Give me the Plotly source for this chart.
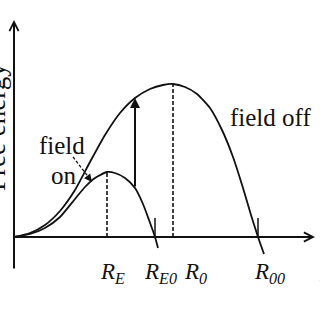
import plotly.graph_objects as go

# ---- data (arbitrary units: radius R, free energy F) ----
r_off = [0, 16, 31, 46, 61, 76, 91, 106, 121, 136, 149, 159, 171, 183, 196, 208, 219, 229, 237, 244, 250]
f_off = [0, 4, 12, 26, 47, 75, 102, 124, 139, 148, 152, 153, 150, 143, 129, 107, 80, 49, 22, 0, -17]

r_on = [0, 16, 31, 46, 61, 71, 81, 93, 101, 111, 121, 129, 135, 141, 144]
f_on = [0, 3, 9, 20, 38, 50, 59, 65, 64, 59, 49, 33, 17, 0, -11]

mark_names = ["R_E", "R_E0", "R_0", "R_00"]
mark_r = [93, 141, 159, 244]
mark_labels = ["<i>R</i><sub><i>E</i></sub>", "<i>R</i><sub><i>E0</i></sub>",
               "<i>R</i><sub><i>0</i></sub>", "<i>R</i><sub><i>00</i></sub>"]
jump_r = 121  # field switch arrow

# ---- layout helpers (positions, styles) ----
label_left = [84, 128, 168, 238]
label_y = -36
FONT = "'Liberation Serif', 'Times New Roman', Times, serif"
BLACK = "#111"

fig = go.Figure()
fig.add_trace(go.Scatter(x=r_off, y=f_off, mode="lines", line=dict(color=BLACK, width=1.8, shape="spline", smoothing=0.6), hoverinfo="skip"))
fig.add_trace(go.Scatter(x=r_on, y=f_on, mode="lines", line=dict(color=BLACK, width=1.8, shape="spline", smoothing=0.6), hoverinfo="skip"))

# dashed drop lines at the maxima
i_e = f_on.index(max(f_on))
i_0 = f_off.index(max(f_off))
for rx, fy in [(r_on[i_e], f_on[i_e]), (r_off[i_0], f_off[i_0])]:
    fig.add_trace(go.Scatter(x=[rx, rx], y=[0, fy], mode="lines", line=dict(color=BLACK, width=1.6, dash="4px,2px"), hoverinfo="skip"))

# short tick marks at zero crossings
for rx in [mark_r[1], mark_r[3]]:
    fig.add_trace(go.Scatter(x=[rx, rx], y=[0, 19], mode="lines", line=dict(color=BLACK, width=1.5), hoverinfo="skip"))

# dashed pointer for "field on"
fig.add_trace(go.Scatter(x=[59, 76], y=[80, 58], mode="lines", line=dict(color=BLACK, width=1.3, dash="3px,2px"), hoverinfo="skip"))

ann = []
ann.append(dict(x=0, y=217, ax=0, ay=-33, xref="x", yref="y", axref="x", ayref="y", text="", showarrow=True,
                arrowhead=5, arrowwidth=2, arrowsize=0.9, arrowcolor=BLACK))
ann.append(dict(x=301, y=0, ax=0, ay=0, xref="x", yref="y", axref="x", ayref="y", text="", showarrow=True,
                arrowhead=5, arrowwidth=2, arrowsize=0.9, arrowcolor=BLACK))
ann.append(dict(x=jump_r, y=f_off[r_off.index(jump_r)], ax=jump_r, ay=f_on[r_on.index(jump_r)], xref="x", yref="y",
                axref="x", ayref="y", text="", showarrow=True, arrowhead=2, arrowwidth=2, arrowsize=1, arrowcolor=BLACK))
ann.append(dict(x=78, y=55, ax=74, ay=60, xref="x", yref="y", axref="x", ayref="y", text="", showarrow=True,
                arrowhead=2, arrowwidth=1.3, arrowsize=1.2, arrowcolor=BLACK))

tf = dict(family=FONT, size=25, color=BLACK)
ann.append(dict(x=256, y=120, xref="x", yref="y", text="field off", showarrow=False, font=tf))
ann.append(dict(x=47.5, y=92, xref="x", yref="y", text="field", showarrow=False, font=tf))
ann.append(dict(x=50, y=62, xref="x", yref="y", text="on", showarrow=False, font=tf))
ann.append(dict(x=-4 / 320, y=1 - 127 / 320, xref="paper", yref="paper", text="Free energy", textangle=-90,
                showarrow=False, xanchor="center", yanchor="middle",
                font=dict(family=FONT, size=27, color=BLACK)))

for lx, lab in zip(label_left, mark_labels):
    ann.append(dict(x=lx, y=label_y, xref="x", yref="y", text=lab, showarrow=False, xanchor="left",
                    font=dict(family=FONT, size=23, color=BLACK)))
ann.append(dict(x=303, y=label_y, xref="x", yref="y", text="<i>R</i>", showarrow=False, xanchor="left",
                font=dict(family=FONT, size=23, color=BLACK)))

fig.update_layout(
    width=320, height=320, margin=dict(l=0, r=0, t=0, b=0),
    paper_bgcolor="white", plot_bgcolor="white", showlegend=False,
    xaxis=dict(range=[-14, 306], visible=False, fixedrange=True),
    yaxis=dict(range=[-83, 237], visible=False, fixedrange=True),
    annotations=ann,
)
fig.write_html("out.html")
